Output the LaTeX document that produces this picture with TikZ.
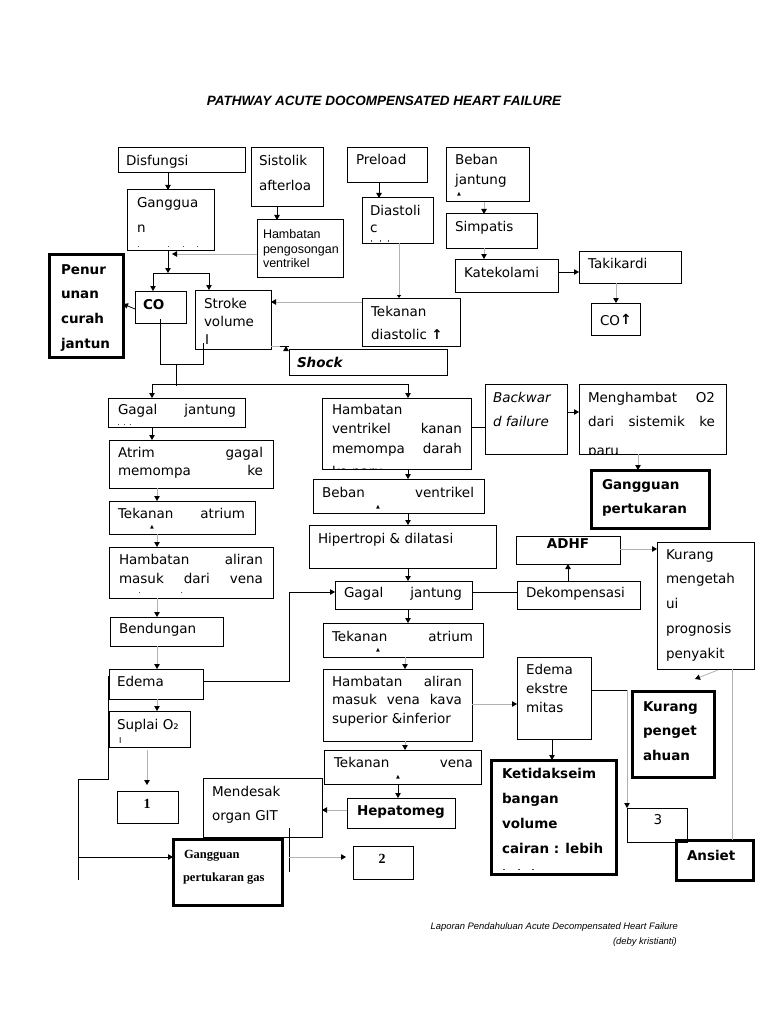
\documentclass[tikz,border=0pt]{standalone}
\usepackage{fontspec}
\setmainfont{DejaVu Sans}
\newfontfamily\lsans{Liberation Sans}
\newfontfamily\lserif{Liberation Serif}
\usetikzlibrary{arrows.meta,calc}
\newcounter{tn}
\newcommand\fn{\fontsize{13.5}{16}\selectfont}
\newcommand\mkbox[6]{\node[#6, minimum width={#4-#2}, minimum height={#5-#3}] (#1) at ({(#2+#4)/2},{(#3+#5)/2}) {};}
\newcommand\tx[4][]{\stepcounter{tn}\node[txt,#1] (t\thetn) at (#2,#3) {#4};}
\newcommand\jl[2]{\makebox[#1pt][s]{#2}}
\newcommand\tri[2]{\stepcounter{tn}\node[inner sep=0pt,font=\fontsize{5}{5}\selectfont] (t\thetn) at (#1,#2) {▲};}
\tikzset{
  box/.style={draw=black, line width=1pt, inner sep=0pt, outer sep=0pt},
  tbox/.style={draw=black, line width=3pt, inner sep=0pt, outer sep=0pt},
  txt/.style={inner sep=0pt, outer sep=0pt, anchor=mid west, font=\fn, yshift=-2.5pt},
  smt/.style={font=\lsans\fontsize{12.5}{14}\selectfont},
  ln/.style={line width=0.8pt, draw=black},
  gl/.style={line width=0.8pt, draw=black!30},
  arr/.style={ln, -{Triangle[length=5pt,width=5.5pt]}},
  garr/.style={gl, -{Triangle[length=5pt,width=5.5pt,color=black]}},
}
\begin{document}
\begin{tikzpicture}[x=1pt,y=-1pt]
\fill[white] (0,0) rectangle (768,1024);
\useasboundingbox (0,0) rectangle (768,1024);

% title and footer
\node[font=\lsans\bfseries\itshape\fontsize{13.5}{16}\selectfont] (title) at (384,101) {PATHWAY ACUTE DOCOMPENSATED HEART FAILURE};
\node[anchor=mid east, font=\lsans\itshape\fontsize{9.4}{12}\selectfont, inner sep=0pt] (foot1) at (678,927) {Laporan Pendahuluan Acute Decompensated Heart Failure};
\node[anchor=mid east, font=\lsans\itshape\fontsize{9.4}{12}\selectfont, inner sep=0pt] (foot2) at (677,942) {(deby kristianti)};

% ---------- boxes ----------
\mkbox{dis}{118}{148}{245}{173}{box}
\mkbox{sis}{251}{148}{323}{207}{box}
\mkbox{gan}{127}{190}{214}{250}{box}
\mkbox{hpv}{257}{220}{343}{277}{box}
\mkbox{pre}{347}{148}{427}{183}{box}
\mkbox{dia}{362}{198}{433}{243}{box}
\mkbox{beb}{446}{148}{529}{202}{box}
\mkbox{sim}{446}{214}{537}{248}{box}
\mkbox{kat}{455}{259}{558}{292}{box}
\mkbox{tak}{579}{251}{681}{283}{box}
\mkbox{cou}{591}{303}{640}{335}{box}
\mkbox{tkd}{362}{298}{460}{346}{box}
\mkbox{shk}{289}{349}{447}{375}{box}
\mkbox{pcj}{49}{254}{123}{357}{tbox}
\mkbox{co}{135}{291}{186}{323}{box}
\mkbox{sv}{195}{290}{271}{349}{box}

\mkbox{gjl}{108}{398}{245}{427}{box}
\mkbox{atr}{109}{440}{273}{488}{box}
\mkbox{tal}{109}{501}{255}{534}{box}
\mkbox{hal}{109}{547}{273}{598}{box}
\mkbox{ben}{110}{617}{223}{646}{box}
\mkbox{ede}{109}{669}{203}{699}{box}
\mkbox{sup}{109}{711}{190}{747}{box}
\mkbox{bone}{117}{791}{178}{823}{box}
\mkbox{mds}{203}{778}{322}{837}{box}
\mkbox{gpg}{173}{839}{282}{905}{tbox}
\mkbox{btwo}{353}{846}{413}{879}{box}

\mkbox{hvk}{322}{398}{471}{469}{box}
\mkbox{bve}{313}{479}{484}{513}{box}
\mkbox{hip}{309}{525}{496}{568}{box}
\mkbox{gjm}{335}{581}{472}{609}{box}
\mkbox{dek}{517}{581}{640}{609}{box}
\mkbox{adhf}{516}{536}{620}{564}{box}
\mkbox{tam}{323}{623}{483}{657}{box}
\mkbox{hvc}{323}{669}{472}{741}{box}
\mkbox{eek}{517}{657}{591}{739}{box}
\mkbox{tve}{324}{750}{481}{784}{box}
\mkbox{hep}{347}{798}{455}{828}{box}
\mkbox{ket}{491}{760}{616}{874}{tbox}

\mkbox{bwd}{485}{384}{567}{454}{box}
\mkbox{mho}{579}{384}{726}{454}{box}
\mkbox{gpr}{591}{470}{709}{528}{tbox}
\mkbox{kmp}{657}{542}{754}{669}{box}
\mkbox{kpe}{632}{691}{714}{777}{tbox}
\mkbox{bthree}{627}{808}{687}{842}{box}
\mkbox{ans}{676}{840}{753}{880}{tbox}

% ---------- texts ----------
\tx{126}{160}{Disfungsi}
\tx{259}{160}{Sistolik}
\tx{259}{185}{afterloa}
\tx{137}{202}{Ganggua}
\tx{137}{227}{n}
\foreach \d in {138,168,183,197} \fill[black!70] (\d,246) rectangle ++(1,1);
\tx[smt]{263}{233}{Hambatan}
\tx[smt]{263}{248}{pengosongan}
\tx[smt]{263}{262}{ventrikel}
\tx{356}{159}{Preload}
\tx{370}{210}{Diastoli}
\tx{370}{227}{c}
\foreach \d in {371,380,388} \fill[black!70] (\d,240) rectangle ++(1,1.5);
\tx{455}{159}{Beban}
\tx{455}{179}{jantung}
\tri{459}{194}
\tx{455}{226}{Simpatis}
\tx{464}{272}{Katekolami}
\tx{588}{263}{Takikardi}
\tx{600}{320}{CO\raisebox{0.5pt}{\fontsize{14}{14}\selectfont\bfseries ↑}}
\tx{371}{311}{Tekanan}
\tx{371}{334}{diastolic {\bfseries ↑}}
\tx[font=\fn\bfseries\itshape]{297}{362}{Shock}
\tx[font=\fn\bfseries]{61}{269}{Penur}
\tx[font=\fn\bfseries]{61}{293}{unan}
\tx[font=\fn\bfseries]{61}{318}{curah}
\tx[font=\fn\bfseries]{61}{343}{jantun}
\tx[font=\fn\bfseries]{143}{304}{CO}
\tx{204}{303}{Stroke}
\tx{204}{321}{volume}
\tx{205}{339}{I}

\tx{118}{409}{\jl{118}{Gagal jantung}}
\foreach \d in {118,124,130} \fill[black!70] (\d,424) rectangle ++(1,1);
\tx{118}{452}{\jl{145}{Atrim gagal}}
\tx{118}{470}{\jl{145}{memompa ke}}
\tx{118}{513}{\jl{127}{Tekanan atrium}}
\tri{152}{527}
\tx{119}{559}{\jl{144}{Hambatan aliran}}
\tx{119}{578}{\jl{144}{masuk dari vena}}
\foreach \d in {139,181} \fill[black!70] (\d,592) rectangle ++(1,1);
\tx{119}{628}{Bendungan}
\tx{117}{681}{Edema}
\tx{117}{724}{Suplai O₂}
\tx[font=\fontsize{8}{8}\selectfont]{119}{738}{I}
\node[font=\lserif\bfseries\fontsize{14}{16}\selectfont, inner sep=0pt] (tone) at (147,804) {1};
\tx{212}{791}{Mendesak}
\tx{212}{815}{organ GIT}
\tx[font=\lserif\bfseries\fontsize{12.5}{14}\selectfont]{184}{853}{Gangguan}
\tx[font=\lserif\bfseries\fontsize{12.5}{14}\selectfont]{183}{876}{pertukaran gas}
\node[font=\lserif\bfseries\fontsize{14}{16}\selectfont, inner sep=0pt] (ttwo) at (382,859) {2};

\tx{332}{409}{Hambatan}
\tx{332}{428}{\jl{130}{ventrikel kanan}}
\tx{332}{448}{\jl{130}{memompa darah}}
\begin{scope}
\clip (hvk.south west) rectangle (hvk.north east);
\tx{332}{471}{ke paru}
\end{scope}
\tx{322}{492}{\jl{152}{Beban ventrikel}}
\tri{378}{507}
\tx{318}{538}{Hipertropi \& dilatasi}
\tx{344}{592}{\jl{118}{Gagal jantung}}
\tx{526}{592}{Dekompensasi}
\node[font=\fn\bfseries, inner sep=0pt, anchor=mid] (tadhf) at (568,546) {ADHF};
\tx{332}{636}{\jl{141}{Tekanan atrium}}
\tri{378}{650}
\tx{332}{681}{\jl{130}{Hambatan aliran}}
\tx{332}{699}{\jl{130}{masuk vena kava}}
\tx{332}{718}{superior \&inferior}
\tx{526}{669}{Edema}
\tx{526}{688}{ekstre}
\tx{526}{707}{mitas}
\tx{334}{762}{\jl{139}{Tekanan vena}}
\tri{398}{777}
\tx[font=\fn\bfseries]{357}{810}{Hepatomeg}
\tx[font=\fn\bfseries]{502}{773}{Ketidakseim}
\tx[font=\fn\bfseries]{502}{798}{bangan}
\tx[font=\fn\bfseries]{502}{823}{volume}
\tx[font=\fn\bfseries]{502}{848}{cairan : lebih}
\foreach \d in {503,518,532} \fill[black!70] (\d,869) rectangle ++(1.5,1.2);

\tx[font=\fn\itshape]{493}{397}{Backwar}
\tx[font=\fn\itshape]{493}{421}{d failure}
\tx{588}{397}{\jl{127}{Menghambat O2}}
\tx{588}{421}{\jl{127}{dari sistemik ke}}
\begin{scope}
\clip (mho.south west) rectangle (mho.north east);
\tx{588}{450}{paru}
\end{scope}
\tx[font=\fn\bfseries]{602}{484}{Gangguan}
\tx[font=\fn\bfseries]{602}{508}{pertukaran}
\tx{666}{554}{Kurang}
\tx{666}{578}{mengetah}
\tx{666}{603}{ui}
\tx{666}{628}{prognosis}
\tx{666}{653}{penyakit}
\tx[font=\fn\bfseries]{643}{706}{Kurang}
\tx[font=\fn\bfseries]{643}{730}{penget}
\tx[font=\fn\bfseries]{643}{755}{ahuan}
\node[font=\fn, inner sep=0pt] (tthree) at (658,820) {3};
\tx[font=\fn\bfseries]{687}{855}{Ansiet}

% ---------- connector coordinates ----------
\coordinate (v147) at (147,0);
\coordinate (v152) at (152,0);
\coordinate (v153) at (153,0);
\coordinate (v157) at (157,0);
\coordinate (v160) at (160,0);
\coordinate (v168) at (168,0);
\coordinate (v203) at (203,0);
\coordinate (v209) at (209,0);
\coordinate (v277) at (277,0);
\coordinate (v379) at (379,0);
\coordinate (v398) at (398,0);
\coordinate (v399) at (399,0);
\coordinate (v405) at (405,0);
\coordinate (v408) at (408,0);
\coordinate (v484) at (484,0);
\coordinate (v552) at (552,0);
\coordinate (v568) at (568,0);
\coordinate (v616) at (616,0);
\coordinate (v627) at (627,0);
\coordinate (v638) at (638,0);
\coordinate (v732) at (732,0);

\coordinate (jg) at (168,273);
\coordinate (jgl) at (153,273);
\coordinate (jgr) at (209,273);
\coordinate (ja) at (160,364);
\coordinate (jb) at (203,364);
\coordinate (jc) at (176,364);
\coordinate (jd) at (176,386);
\coordinate (jl) at (152,384);
\coordinate (jr) at (408,384);
\coordinate (ea) at (289,681);
\coordinate (eb) at (289,592);
\coordinate (la) at (108,676);
\coordinate (lb) at (108,779);
\coordinate (lc) at (78,779);
\coordinate (ld) at (78,880);
\coordinate (le) at (78,857);
\coordinate (ma) at (289,828);
\coordinate (mb) at (289,872);
\coordinate (mc) at (289,857);
\coordinate (mt) at (346,857);
\coordinate (hx) at (172,254);
\coordinate (ka) at (627,690);
\coordinate (kp) at (718,670);
\coordinate (kq) at (695,679);

% ---------- connectors ----------
\draw[arr] (dis.south -| v168) -- (gan.north -| v168);
\draw[arr] (sis.south -| v277) -- (hpv.north -| v277);
\draw[garr] (hpv.west |- hx) -- (hx);
\draw[arr] (gan.south -| v168) -- (jg);
\draw[ln] (jgl) -- (jgr);
\draw[arr] (jgl) -- (co.north -| v153);
\draw[arr] (jgr) -- (sv.north -| v209);
\draw[arr] (co.west) ++(0,2) -- (pcj.east |- 0,304);
\draw[garr] (tkd.west |- 0,302) -- (sv.east |- 0,302);
\draw[gl, -{Triangle[length=3pt,width=4pt,color=black]}] (dia.south -| v399) -- (tkd.north -| v399);
\draw[arr] (pre.south -| v379) -- (dia.north -| v379);
\draw[garr] (beb.south -| v484) -- (sim.north -| v484);
\draw[garr] (sim.south -| v484) -- (kat.north -| v484);
\draw[arr] (kat.east |- 0,272) -- (tak.west |- 0,272);
\draw[garr] (tak.south -| v616) -- (cou.north -| v616);
\draw[gl] (sv.east |- 0,346) -- (281,346);
\draw[arr] (280,346) -- (shk.west |- 0,346) ++(-3,0);
\draw[ln] ([yshift=4pt]co.south -| v160) -- (ja) -- (jb) -- ([yshift=6pt]sv.south -| v203);
\draw[ln] (jc) -- (jd);
\draw[ln] (jl) -- (jr);
\draw[arr] (jl) -- (gjl.north -| v152);
\draw[arr] (jr) -- (hvk.north -| v408);

\draw[arr] (gjl.south -| v152) -- (atr.north -| v152);
\draw[garr] (atr.south -| v157) -- (tal.north -| v157);
\draw[garr] (tal.south -| v157) -- (hal.north -| v157);
\draw[garr] (hal.south -| v157) -- (ben.north -| v157);
\draw[garr] (ben.south -| v157) -- (ede.north -| v157);
\draw[garr] (ede.south -| v157) -- (sup.north -| v157);
\draw[garr] (sup.south -| v147) ++(0,3) -- ([yshift=6pt]bone.north -| v147);
\draw[ln] (ede.east |- ea) -- (ea) -- (eb);
\draw[arr] (eb) -- (gjm.west |- eb);
\draw[ln] (la) -- (lb) -- (lc) -- (ld);
\draw[arr] (le) -- (gpg.west |- le);
\draw[ln] (ma) -- (mb);
\draw[garr] (mc) -- (mt);
\draw[garr] (hep.west |- 0,810) -- (mds.east |- 0,810);
\draw[arr] (tve.south -| v398) -- (hep.north -| v398);

\draw[arr] (hvk.south -| v408) -- (bve.north -| v408);
\draw[arr] (bve.south -| v408) -- (hip.north -| v408);
\draw[arr] (hip.south -| v408) -- (gjm.north -| v408);
\draw[arr] (gjm.south -| v408) -- (tam.north -| v408);
\draw[garr] (tam.south -| v405) -- (hvc.north -| v405);
\draw[garr] (hvc.south -| v405) -- (tve.north -| v405);
\draw[garr] (hvc.east |- 0,704) -- (eek.west |- 0,704);
\draw[ln] (gjm.east |- 0,592) -- (dek.west |- 0,592);
\draw[arr] (dek.north -| v568) -- (adhf.south -| v568);
\draw[garr] (adhf.east |- 0,549) -- (kmp.west |- 0,549);
\draw[ln] (hvk.east |- 0,427) -- (bwd.west |- 0,427);
\draw[arr] (bwd.east |- 0,412) -- (mho.west |- 0,412);
\draw[garr] (mho.south -| v638) -- (gpr.north -| v638);
\draw[garr] (kp) -- (kq);
\draw[gl] (kmp.south -| v732) -- (ans.north -| v732);
\draw[ln] (eek.east |- ka) -- (ka);
\draw[garr] (ka) -- (bthree.north -| v627);
\draw[arr] (eek.south -| v552) -- (ket.north -| v552);
\end{tikzpicture}
\end{document}
